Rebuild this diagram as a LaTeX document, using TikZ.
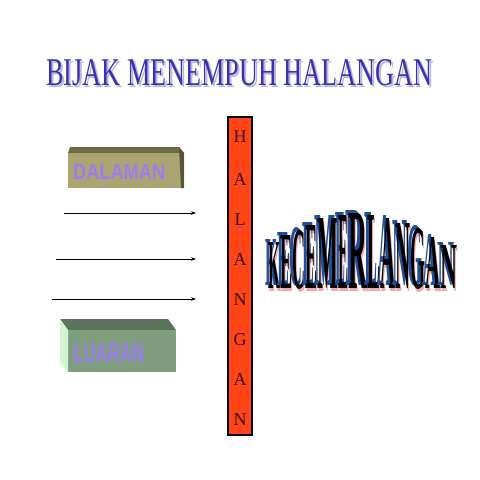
\documentclass[tikz,border=0pt]{standalone}
\usepackage{fontspec}
\setmainfont{Liberation Serif}
\newfontfamily\boxfont{Liberation Sans}
\usetikzlibrary{arrows.meta}
\definecolor{titleBlue}{HTML}{3A32B4}
\definecolor{titleShade}{HTML}{B8B8D8}
\definecolor{barRed}{HTML}{FF4515}
\definecolor{barText}{HTML}{3A0E0E}
\definecolor{boxPurple}{HTML}{9C7CF0}
\definecolor{olivFront}{HTML}{ABA472}
\definecolor{olivTop}{HTML}{6E6B42}
\definecolor{greenFront}{HTML}{7E9E7E}
\definecolor{greenTop}{HTML}{5C745C}
\definecolor{greenSide}{HTML}{D2F4D2}
\definecolor{archBlue}{HTML}{1F4E9A}
\definecolor{archPink}{HTML}{F0A8B0}
% one arched letter: pink shade, blue extrusion, black face
\newcommand{\archGlyph}[3]{%
  \makebox[0pt][l]{\kern1.5pt\raisebox{-3pt}{\color{archPink}\resizebox{#1pt}{#2pt}{#3}}}%
  \makebox[0pt][l]{\kern-2.5pt\raisebox{2.5pt}{\color{archBlue}\resizebox{#1pt}{#2pt}{#3}}}%
  \resizebox{#1pt}{#2pt}{#3}}
\tikzstyle{barLetter}=[font = \fontsize{18}{18}\selectfont, text = barText, inner sep = 0pt]
\tikzstyle{boxLabel}=[font = \boxfont\bfseries, text = boxPurple, inner sep = 0pt, anchor = south west]
\tikzstyle{archLetter}=[font = \bfseries, text = black, inner sep = 0pt, anchor = base west]
\tikzstyle{pushArrow}=[-{Stealth[length = 5pt, width = 3.5pt]}, line width = 0.6pt]

\begin{document}
\begin{tikzpicture}[x = 1pt, y = -1pt]
\useasboundingbox (0,0) rectangle (480,480);
% title
\node[inner sep = 0pt, anchor = south west, text = titleBlue] (title) at (46,88)
  {\makebox[0pt][l]{\kern2pt\raisebox{-2pt}{\color{titleShade}\resizebox{386pt}{26pt}{BIJAK MENEMPUH HALANGAN}}}\resizebox{386pt}{26pt}{BIJAK MENEMPUH HALANGAN}};
% boxes
\fill[olivTop] (70,147) -- (179,147) -- (184,153) -- (68,153) -- cycle;
\fill[olivFront] (68,153) rectangle (184,188);
\fill[olivTop!80!black] (179,147) -- (184,153) -- (184,188) -- (181,188) -- cycle;
\node[boxLabel] (dalaman) at (73,180) {\resizebox{92pt}{15pt}{DALAMAN}};
\fill[greenTop] (60,319) -- (168,319) -- (176,330) -- (68,330) -- cycle;
\fill[greenFront] (68,330) rectangle (176,372);
\fill[greenSide] (60,319) -- (68,330) -- (68,372) -- (60,362) -- cycle;
\node[boxLabel] (luaran) at (73,363) {\resizebox{71pt}{19pt}{LUARAN}};
% arrows
\coordinate (a1) at (64,213);
\coordinate (b1) at (196,213);
\coordinate (a2) at (56,259);
\coordinate (b2) at (196,259);
\coordinate (a3) at (52,299);
\coordinate (b3) at (196,299);
\draw[pushArrow] (a1) -- (b1);
\draw[pushArrow] (a2) -- (b2);
\draw[pushArrow] (a3) -- (b3);
% bar
\draw[fill = barRed, line width = 1.6pt] (228,117) rectangle (252,435);
\foreach \ch/\y [count = \i] in {H/137, A/180, L/220, A/260, N/300, G/340, A/380, N/420}
  \node[barLetter] (h\i) at (240,\y) {\ch};
% arch word
\foreach \ch/\x/\w/\t [count = \i, evaluate = \t as \h using 288-\t] in {K/268/12/242, E/280/12/235, C/292/13/230, E/305/12/225, M/317/21/218, E/338/10/215, R/348/19/213, L/367/13/215, A/380/15/218, N/395/15/223, G/410/15/228, A/425/15/237, N/440/17/245}
  \node[archLetter] (k\i) at (\x,288) {\archGlyph{\w}{\h}{\ch}};
\end{tikzpicture}
\end{document}
